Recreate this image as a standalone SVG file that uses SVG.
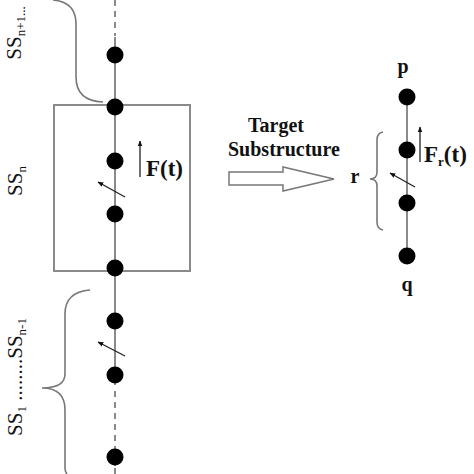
<svg xmlns="http://www.w3.org/2000/svg" width="474" height="474" viewBox="0 0 474 474">
<style>
.ln{stroke:#8a8a8a;stroke-width:2;fill:none}
.dash{stroke:#8a8a8a;stroke-width:2;fill:none;stroke-dasharray:6 5}
.dot{fill:#000}
.arr{stroke:#222;stroke-width:1.3;fill:none;marker-end:url(#ah)}
.br{stroke:#777;stroke-width:1.6;fill:none}
.t{font-family:"Liberation Serif","Times New Roman","DejaVu Serif",serif;font-size:20px;fill:#111}
.rot{font-size:21px}
.b{font-weight:bold}
.sub{font-size:13px}
.big{font-size:23px}
</style>
<defs>
<marker id="ah" viewBox="0 0 10 10" refX="9" refY="5" markerWidth="6" markerHeight="6" orient="auto" markerUnits="userSpaceOnUse">
<path d="M0 1 L10 5 L0 9 Z" fill="#111"/>
</marker>
</defs>
<g id="connectors">
<path class="dash" d="M115 0 V36"/>
<path class="ln" d="M115 37 V385"/>
<path class="dash" d="M115 391 V446"/>
<path class="ln" d="M115 446 V466"/>
<path class="dash" d="M115 468 V474"/>
<path class="ln" d="M407 97 V256"/>
<path class="arr" d="M125 197 L98 182"/>
<path class="arr" d="M125 356 L98 342"/>
<path class="arr" d="M415 187 L390 173"/>
<path class="arr" d="M140 177 V141"/>
<path class="arr" d="M420 162 V127"/>
</g>
<g id="box"><rect x="54" y="105" width="136" height="166" class="ln"/></g>
<g id="target-arrow"><path d="M229 172 H283 V167 L334 179 L283 191 V185 H229 Z" fill="#fff" stroke="#777" stroke-width="1.5"/></g>
<g id="nodes-left">
<circle class="dot" cx="115" cy="55" r="8.5"/>
<circle class="dot" cx="115" cy="107" r="8.5"/>
<circle class="dot" cx="115" cy="161" r="8.5"/>
<circle class="dot" cx="115" cy="214" r="8.5"/>
<circle class="dot" cx="115" cy="268" r="8.5"/>
<circle class="dot" cx="115" cy="321" r="8.5"/>
<circle class="dot" cx="115" cy="375" r="8.5"/>
<circle class="dot" cx="115" cy="457" r="8.5"/>
</g>
<g id="nodes-right">
<circle class="dot" cx="407" cy="97" r="8.5"/>
<circle class="dot" cx="407" cy="150" r="8.5"/>
<circle class="dot" cx="407" cy="203" r="8.5"/>
<circle class="dot" cx="407" cy="256" r="8.5"/>
</g>
<g id="braces">
<path class="br" d="M53 0 Q76 2 76 24 V77 Q76 101 103 102"/>
<path class="br" d="M90 290 Q65 292 65 314 V374 Q65 388 42 388 Q65 388 65 410 V468 Q65 472 67 474"/>
<path class="br" d="M383 132 Q377 133 377 140 V172 Q377 179 370 179 Q377 179 377 186 V222 Q377 229 383 230"/>
</g>
<g id="labels">
<text class="t rot" transform="translate(21,33) rotate(-90)" text-anchor="middle">SS<tspan class="sub" dy="4">n+1...</tspan></text>
<text class="t rot" transform="translate(22,181) rotate(-90)" text-anchor="middle">SS<tspan class="sub" dy="4">n</tspan></text>
<text class="t rot" transform="translate(22,377) rotate(-90)" text-anchor="middle">SS<tspan class="sub" dy="4">1</tspan><tspan dy="-4"> ........SS</tspan><tspan class="sub" dy="4">n-1</tspan></text>
<text class="t b big" x="146" y="176">F(t)</text>
<text class="t b" x="248" y="132">Target</text>
<text class="t b" x="228" y="156">Substructure</text>
<text class="t b" x="403" y="73" text-anchor="middle">p</text>
<text class="t b" x="407" y="291" text-anchor="middle">q</text>
<text class="t b" x="355" y="183" text-anchor="middle">r</text>
<text class="t b big" x="424" y="162">F<tspan class="sub" dy="4">r</tspan><tspan dy="-4">(t)</tspan></text>
</g>
</svg>
